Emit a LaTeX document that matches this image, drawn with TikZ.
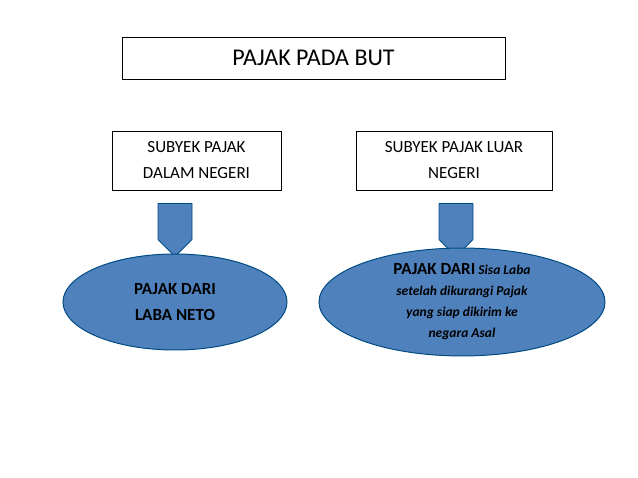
\documentclass[tikz,border=0pt]{standalone}
\usepackage{fontspec}
\setmainfont{Carlito}
\usetikzlibrary{shapes.geometric,shapes.arrows}
\begin{document}
\begin{tikzpicture}[x=1pt,y=-1pt,
  box/.style={draw=black,line width=0.8pt,fill=white,align=center,inner sep=0pt},
  ell/.style={ellipse,draw=blue!30!black!70!cyan,fill=blueA,line width=1pt,align=center,inner sep=0pt},
  barrow/.style={single arrow,shape border rotate=270,draw=blue!30!black!70!cyan,fill=blueA,line width=0.8pt,minimum width=34pt,single arrow head extend=0pt,single arrow tip angle=90,minimum height=53pt,inner sep=0pt,single arrow head indent=0pt}]
\definecolor{blueA}{HTML}{4F81BD}
\path[use as bounding box] (0,0) rectangle (638,478);
\node[box,minimum width=383pt,minimum height=42pt,font=\fontsize{24}{28}\selectfont] (t) at (313.5,58) {PAJAK PADA BUT};
\node[box,minimum width=169pt,minimum height=59pt,font=\fontsize{17}{26}\selectfont] (l) at (196.5,160.5) {SUBYEK PAJAK\\DALAM NEGERI};
\node[box,minimum width=196pt,minimum height=59pt,font=\fontsize{17}{26}\selectfont] (r) at (454,160.5) {SUBYEK PAJAK LUAR\\NEGERI};
\node[barrow] (la) at (175,221.5) {};
\node[barrow] (ra) at (456,221.5) {};
\node[ell,minimum width=224pt,minimum height=96pt,font=\fontsize{17}{26}\selectfont\bfseries] (le) at (175,302) {PAJAK DARI\\LABA NETO};
\node[ell,minimum width=286pt,minimum height=106pt,font=\fontsize{13.5}{21}\selectfont\bfseries\itshape] (re) at (462,302) {{\fontsize{17}{21}\selectfont\upshape PAJAK DARI} Sisa Laba\\setelah dikurangi Pajak\\yang siap dikirim ke\\negara Asal};
\end{tikzpicture}
\end{document}
